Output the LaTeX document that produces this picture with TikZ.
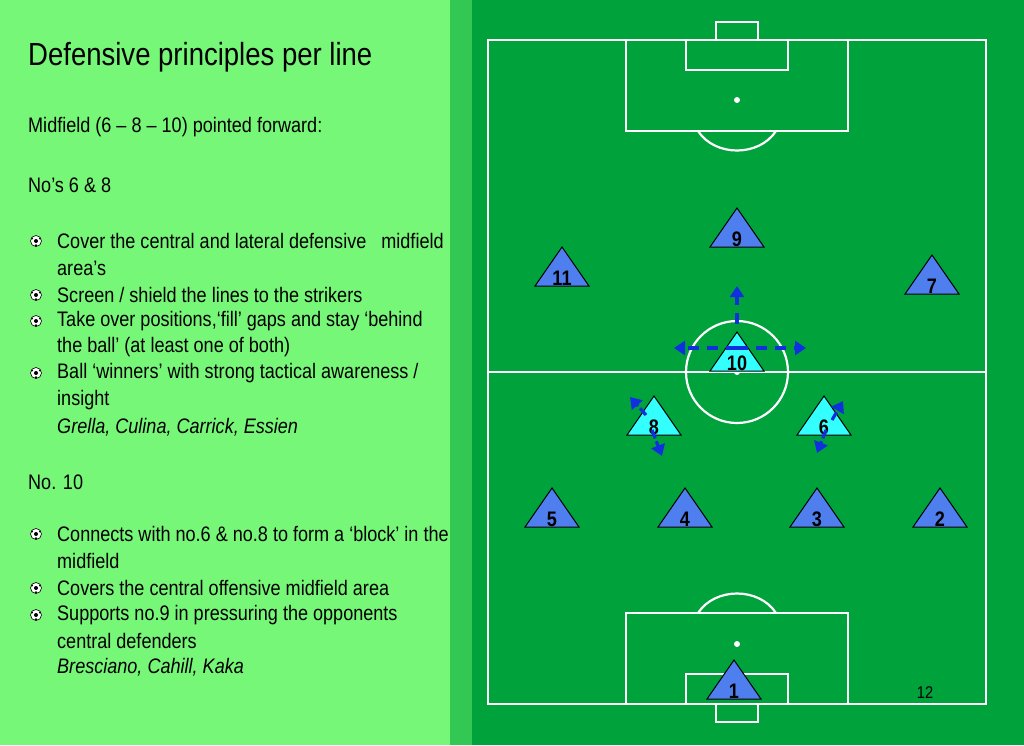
\documentclass[tikz,border=0pt]{standalone}
\usepackage{fontspec}
\setmainfont{Liberation Sans}[FakeStretch=0.86]
\usetikzlibrary{positioning,arrows.meta}
\definecolor{panel}{HTML}{77F777}
\definecolor{edge}{HTML}{33C853}
\definecolor{pitch}{HTML}{00A23C}
\definecolor{player}{HTML}{4F7FEF}
\definecolor{mid}{HTML}{33FFFF}
\definecolor{runs}{HTML}{1030E0}
\begin{document}
\begin{tikzpicture}[x=1pt,y=-1pt,
    line/.style={draw=white,line width=2.2pt},
    txt/.style={anchor=west,inner sep=0pt,font=\fontsize{21}{22}\selectfont},
    ball/.style={circle,draw=black,fill=white,line width=0.6pt,minimum size=11pt,inner sep=0pt},
    run/.style={draw=runs,line width=3.2pt,dash pattern=on 11pt off 8pt,-{Triangle[length=11pt,width=14pt]}},
    num/.style={font=\fontsize{21}{21}\selectfont\bfseries,inner sep=0pt}]
  \useasboundingbox (0,0) rectangle (1024,745);
  \fill[panel] (0,0) rectangle (450,745);
  \fill[edge] (450,0) rectangle (472,745);
  \fill[pitch] (472,0) rectangle (1024,745);
  % pitch lines
  \draw[line] (488,40) rectangle (986,704);
  \draw[line] (488,372) -- (986,372);
  \draw[line] (737,372) circle (51);
  \fill[white] (737,372) circle (3);
  \draw[line] (626,40) rectangle (848,131);
  \draw[line] (686,40) rectangle (788,70);
  \draw[line] (716,22) rectangle (758,40);
  \fill[white] (737,100) circle (3);
  \draw[line] (698,131) .. controls (715,157) and (759,157) .. (776,131);
  \draw[line] (626,613) rectangle (848,704);
  \draw[line] (686,674) rectangle (788,704);
  \draw[line] (716,704) rectangle (758,722);
  \fill[white] (737,644) circle (3);
  \draw[line] (698,613) .. controls (715,587) and (759,587) .. (776,613);
  % players: name/apex x/apex y/colour
  \foreach \n/\x/\y/\c in {9/737/208/player,11/562/247/player,7/932/255/player,
      10/737/332/mid,8/654/396/mid,6/824/396/mid,
      5/552/488/player,4/685/488/player,3/817/488/player,2/940/488/player,
      1/734/660/player}{
    \filldraw[fill=\c,draw=black,line width=1pt]
      (\x,\y) -- (\x+27,\y+39) -- (\x-27,\y+39) -- cycle;
    \node[num] (p\n) at (\x,\y+31) {\n};
  }
  % runs
  \coordinate (c10) at (737,348);
  \coordinate (c10u) at (737,286);
  \coordinate (c10l) at (674,348);
  \coordinate (c10r) at (806,348);
  \draw[run] (737,324) -- (c10u);
  \draw[run] (c10) -- (c10l);
  \draw[run] (c10) -- (c10r);
  \coordinate (c8) at (646,415);
  \coordinate (c8u) at (630,397);
  \coordinate (c8d) at (662,456);
  \draw[run,dash pattern=on 9pt off 3pt] (c8) -- (c8u);
  \draw[run,dash pattern=on 9pt off 3pt] (652,430) -- (c8d);
  \coordinate (c6u) at (843,401);
  \coordinate (c6d) at (817,453);
  \draw[run,dash pattern=on 9pt off 3pt] (832,420) -- (c6u);
  \draw[run,dash pattern=on 9pt off 3pt] (826,430) -- (c6d);
  \node[font=\fontsize{17}{17}\selectfont] (page) at (925,693) {12};
  % text
  \node[txt,font=\fontsize{32}{34}\selectfont] (title) at (28,57) {Defensive principles per line};
  \node[txt] (mid) at (28,127) {Midfield (6 – 8 – 10) pointed forward:};
  \node[txt] (n68) at (28,185) {No’s 6 \& 8};
  \node[txt] (n10) at (28,482) {No. 10};
  \foreach \t/\y in {{Cover the central and lateral defensive \ \ midfield}/241,
      {Screen / shield the lines to the strikers}/295,
      {Take over positions,‘fill’ gaps and stay ‘behind}/321,
      {Ball ‘winners’ with strong tactical awareness /}/373,
      {Connects with no.6 \& no.8 to form a ‘block’ in the}/534,
      {Covers the central offensive midfield area}/588,
      {Supports no.9 in pressuring the opponents}/615}{
    \node[ball] at (36,\y) {};
    \fill (36,\y) circle (2) (32,\y-2.5) circle (1.2) (40,\y-2.5) circle (1.2) (36,\y+4.3) circle (1.2);
    \node[txt] at (57,\y) {\t};
  }
  \foreach \t/\y in {{area’s}/268,{the ball’ (at least one of both)}/347,{insight}/400,
      {midfield}/561,{central defenders}/641}{
    \node[txt] at (57,\y) {\t};
  }
  \node[txt,font=\fontsize{21}{22}\selectfont\itshape] (ex1) at (57,427) {Grella, Culina, Carrick, Essien};
  \node[txt,font=\fontsize{21}{22}\selectfont\itshape] (ex2) at (57,667) {Bresciano, Cahill, Kaka};
\end{tikzpicture}
\end{document}
